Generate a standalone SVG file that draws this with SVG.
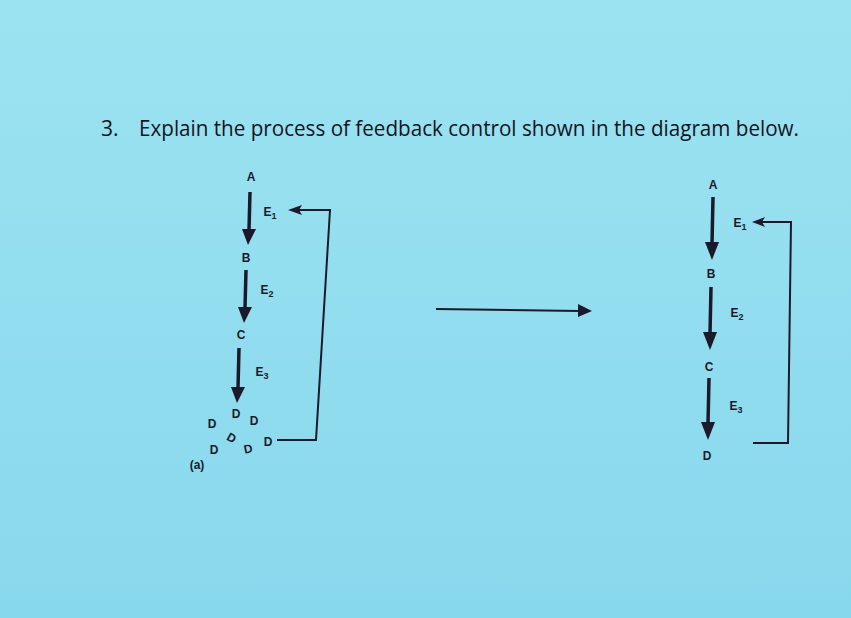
<svg xmlns="http://www.w3.org/2000/svg" width="851" height="618" viewBox="0 0 851 618">
<style>
.lbl{font-family:"Liberation Sans",Arial,sans-serif;font-weight:bold;font-size:12px;fill:#1c1a2a;text-anchor:middle}
.sub{font-size:9px}
.title{font-family:"Open Sans","Liberation Sans",sans-serif;font-size:21px;fill:#15141f}
.thick{stroke:#1c1a2a;stroke-width:3.5;fill:none}
.thin{stroke:#1c1a2a;stroke-width:2;fill:none}
.head{fill:#1c1a2a}
</style>
<defs>
<linearGradient id="bg" x1="0" y1="0" x2="0" y2="1">
<stop offset="0" stop-color="#9ce3f1"/>
<stop offset="1" stop-color="#88d8ed"/>
</linearGradient>
</defs>
<rect width="851" height="618" fill="url(#bg)"/>
<g id="title">
<text class="title" x="101" y="136">3.</text>
<text class="title" x="139" y="136" textLength="660" lengthAdjust="spacingAndGlyphs">Explain the process of feedback control shown in the diagram below.</text>
</g>
<g id="left-diagram">
<g id="L-A"><text class="lbl" x="251" y="181">A</text></g>
<g id="L-E1"><text class="lbl" x="270" y="216">E<tspan class="sub" dy="3">1</tspan></text></g>
<g id="L-B"><text class="lbl" x="246" y="262">B</text></g>
<g id="L-E2"><text class="lbl" x="267" y="294">E<tspan class="sub" dy="3">2</tspan></text></g>
<g id="L-C"><text class="lbl" x="241" y="339">C</text></g>
<g id="L-E3"><text class="lbl" x="262" y="376">E<tspan class="sub" dy="3">3</tspan></text></g>
<g id="L-D">
<text class="lbl" x="236" y="418">D</text>
<text class="lbl" x="212" y="428">D</text>
<text class="lbl" x="254" y="425">D</text>
<text class="lbl" x="232" y="442" transform="rotate(30 232 437)">D</text>
<text class="lbl" x="214" y="454">D</text>
<text class="lbl" x="248" y="453" transform="rotate(-12 248 448)">D</text>
<text class="lbl" x="268" y="446">D</text>
</g>
<g id="L-a"><text class="lbl" x="197" y="469">(a)</text></g>
</g>
<g id="right-diagram">
<g id="R-A"><text class="lbl" x="713" y="189">A</text></g>
<g id="R-E1"><text class="lbl" x="740" y="227">E<tspan class="sub" dy="3">1</tspan></text></g>
<g id="R-B"><text class="lbl" x="711" y="278">B</text></g>
<g id="R-E2"><text class="lbl" x="737" y="317">E<tspan class="sub" dy="3">2</tspan></text></g>
<g id="R-C"><text class="lbl" x="709" y="371">C</text></g>
<g id="R-E3"><text class="lbl" x="736" y="410">E<tspan class="sub" dy="3">3</tspan></text></g>
<g id="R-D"><text class="lbl" x="707" y="460">D</text></g>
</g>
<g id="connectors">
<line class="thick" x1="250" y1="192" x2="249" y2="230"/>
<polygon class="head" points="242,229 256,229 248,245"/>
<line class="thick" x1="246" y1="270" x2="245" y2="308"/>
<polygon class="head" points="238,307 252,307 244,323"/>
<line class="thick" x1="239" y1="348" x2="238" y2="388"/>
<polygon class="head" points="231,387 245,387 237,403"/>
<polyline class="thin" points="277,440 316,440 330,210 299,210"/>
<polygon class="head" points="288,210 302,205 299,210 302,215"/>
<line class="thin" x1="436" y1="309" x2="580" y2="311"/>
<polygon class="head" points="592,311 578,304 578,317"/>
<line class="thick" x1="713" y1="197" x2="712" y2="244"/>
<polygon class="head" points="705,242 719,242 712,260"/>
<line class="thick" x1="711" y1="287" x2="710" y2="334"/>
<polygon class="head" points="703,332 717,332 710,350"/>
<line class="thick" x1="709" y1="378" x2="708" y2="424"/>
<polygon class="head" points="701,422 715,422 708,440"/>
<polyline class="thin" points="753,443 788,443 791,222 762,222"/>
<polygon class="head" points="752,222 765,217 762,222 765,227"/>
</g>
</svg>
